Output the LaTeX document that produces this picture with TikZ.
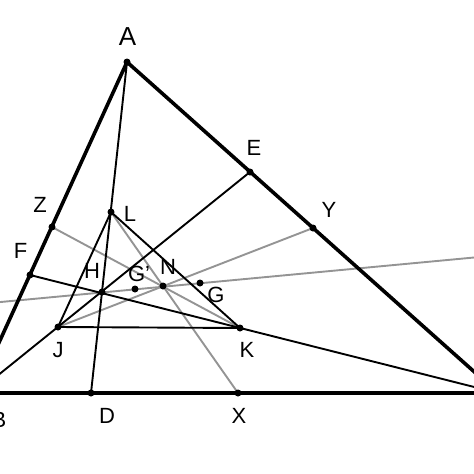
\documentclass[tikz,border=0pt]{standalone}
\usepackage{fontspec}
\setmainfont{Liberation Sans}
\begin{document}
\begin{tikzpicture}[x=1pt,y=-1pt,
 thickside/.style={line width=3.6pt, line cap=round},
 thinline/.style={line width=1.9pt},
 grayline/.style={line width=1.9pt, draw=black!42},
 dot/.style={circle, fill=black, inner sep=0pt, minimum size=7pt},
 lab/.style={font=\fontsize{22}{22}\selectfont, inner sep=0pt},
 biglab/.style={font=\fontsize{26}{26}\selectfont, inner sep=0pt}]
\useasboundingbox (0,0) rectangle (474,474);
\clip (0,0) rectangle (474,474);
% points
\coordinate (A) at (127,62);
\coordinate (B) at (-24,393);
\coordinate (C) at (498,393);
\coordinate (D) at (91,393);
\coordinate (X) at (238,393);
\coordinate (E) at (250,172);
\coordinate (Y) at (313,228);
\coordinate (Z) at (52,227);
\coordinate (F) at (30,275);
\coordinate (H) at (102,292);
\coordinate (L) at (111,212);
\coordinate (J) at (58,327);
\coordinate (K) at (240,328);
\coordinate (N) at (163,286);
\coordinate (Gp) at (135,289);
\coordinate (G) at (200,283);
\coordinate (Wl) at (-10,303);
\coordinate (Wr) at (490,256);
% gray lines
\draw[grayline] (L) -- (X);
\draw[grayline] (J) -- (Y);
\draw[grayline] (Z) -- (K);
\draw[grayline] (Wl) -- (Wr);
% thin black lines
\draw[thinline] (A) -- (D);
\draw[thinline] (B) -- (E);
\draw[thinline] (C) -- (F);
\draw[thinline] (L) -- (J) -- (K) -- cycle;
% triangle
\draw[thickside] (A) -- (B);
\draw[thickside] (A) -- (C);
\draw[thickside] (B) -- (C);
% dots
\foreach \p in {A,E,Y,Z,F,D,X,L,H,J,K,N,Gp,G}
  \node[dot] (dot\p) at (\p) {};
% labels
\node[biglab] (lA) at (127.5,37) {A};
\node[lab] (lB) at (-1,420) {B};
\node[lab] (lD) at (107,415.5) {D};
\node[lab] (lX) at (239,415.5) {X};
\node[lab] (lE) at (254,147.5) {E};
\node[lab] (lY) at (329,210) {Y};
\node[lab] (lZ) at (40,204.5) {Z};
\node[lab] (lF) at (20.5,251) {F};
\node[lab] (lL) at (130,214) {L};
\node[lab] (lH) at (92,271) {H};
\node[lab] (lGp) at (139,274) {G'};
\node[lab] (lN) at (168,267) {N};
\node[lab] (lG) at (216,295) {G};
\node[lab] (lJ) at (58,350) {J};
\node[lab] (lK) at (247,350) {K};
\end{tikzpicture}
\end{document}
